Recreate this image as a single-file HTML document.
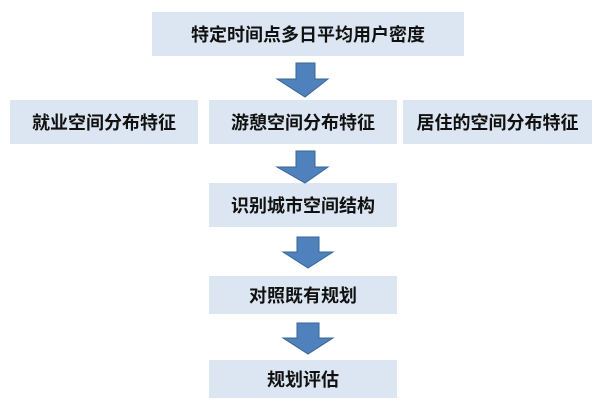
<!DOCTYPE html>
<html><head><meta charset="utf-8"><style>
body{margin:0;width:600px;height:409px;background:#fff;position:relative;overflow:hidden;font-family:"Liberation Sans","Noto Sans CJK SC",sans-serif}
.b{position:absolute;background:#dce6f2;display:flex;align-items:center;justify-content:center;font-weight:bold;font-size:18px;color:#111}
svg{position:absolute;left:0;top:0}
</style></head><body>
<div class="b" style="left:152px;top:12px;width:312px;height:44px">特定时间点多日平均用户密度</div>
<div class="b" style="left:10px;top:100px;width:188px;height:44px">就业空间分布特征</div>
<div class="b" style="left:209px;top:100px;width:188px;height:44px">游憩空间分布特征</div>
<div class="b" style="left:403px;top:100px;width:189px;height:44px">居住的空间分布特征</div>
<div class="b" style="left:209px;top:183px;width:188px;height:44px">识别城市空间结构</div>
<div class="b" style="left:209px;top:276px;width:188px;height:38px">对照既有规划</div>
<div class="b" style="left:209px;top:360px;width:188px;height:38px">规划评估</div>
<svg width="600" height="409">
<g fill="#4f81bd" stroke="#3a6596" stroke-width="1">
<polygon points="296,63 315,63 315,79 328,79 305,97 277,79 296,79"/>
<polygon points="296,151 315,151 315,167 328,167 305,183 277,167 296,167"/>
<polygon points="297,237 319,237 319,252 333,252 308,268 283,252 297,252"/>
<polygon points="297,323 319,323 319,338 333,338 308,354 283,338 297,338"/>
</g>
</svg>
</body></html>
